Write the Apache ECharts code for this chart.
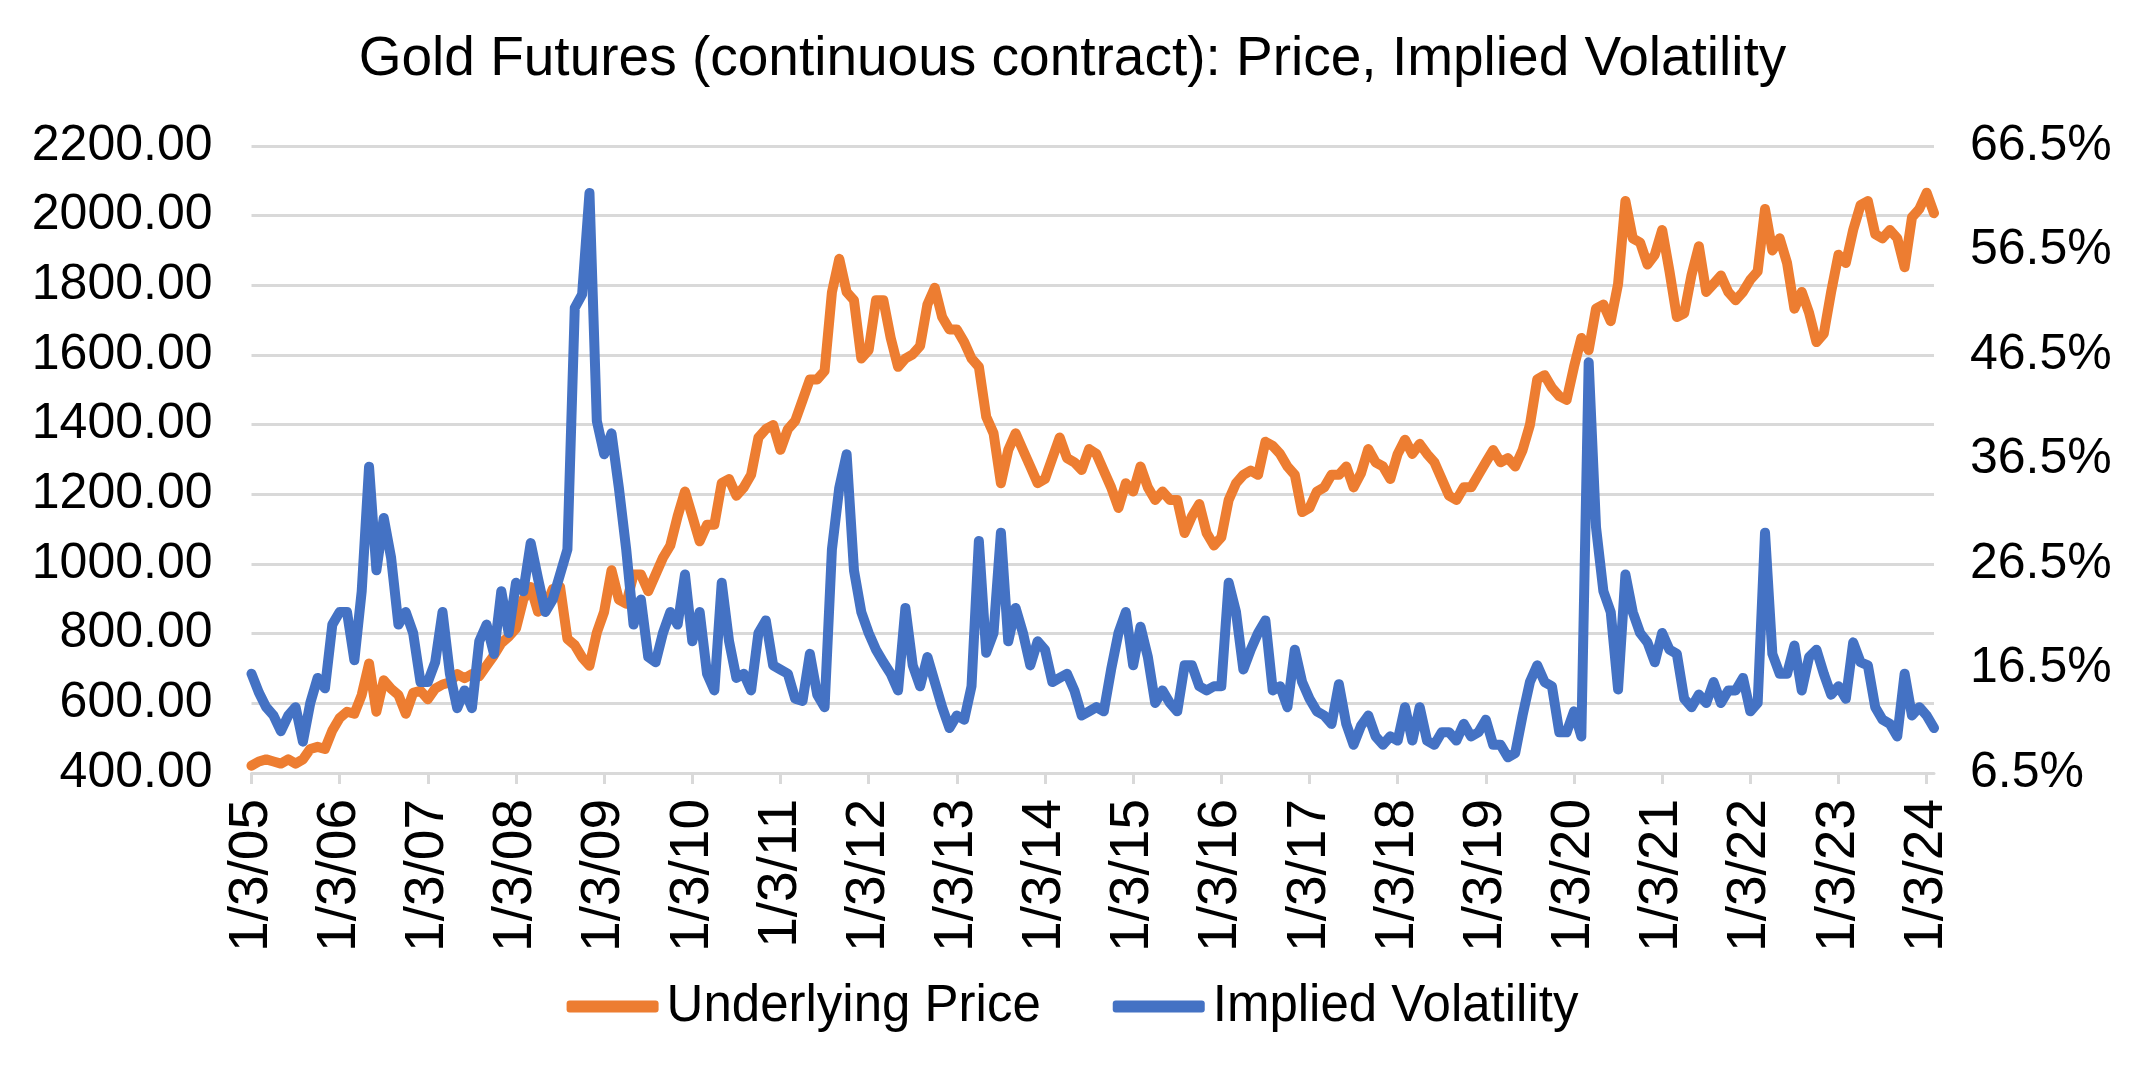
<!DOCTYPE html>
<html>
<head>
<meta charset="utf-8">
<script src="https://cdn.jsdelivr.net/npm/echarts@6/dist/echarts.min.js"></script>
<style>
html,body{margin:0;padding:0;background:#fff;}
#chart{width:2145px;height:1081px;}
</style>
</head>
<body>
<div id="chart"></div>
<script>
// Monthly samples starting 1/3/05 (index / 12 = years since 1/3/05)
const xTickLabels = ['1/3/05','1/3/06','1/3/07','1/3/08','1/3/09','1/3/10','1/3/11','1/3/12','1/3/13','1/3/14','1/3/15','1/3/16','1/3/17','1/3/18','1/3/19','1/3/20','1/3/21','1/3/22','1/3/23','1/3/24'];

const underlyingPrice = [
  421, 433, 439, 433, 427, 439, 427, 439, 469, 475, 469, 522,
  558, 576, 570, 624, 714, 576, 666, 642, 624, 570, 630, 636,
  612, 642, 654, 660, 684, 672, 684, 678, 708, 738, 773, 791,
  815, 898, 934, 863, 875, 928, 934, 785, 767, 732, 708, 803,
  863, 982, 898, 886, 970, 970, 922, 970, 1018, 1053, 1137, 1208,
  1137, 1065, 1113, 1113, 1232, 1244, 1196, 1220, 1256, 1363, 1387, 1399,
  1328, 1387, 1411, 1470, 1530, 1530, 1554, 1780, 1876, 1781, 1757, 1590,
  1614, 1757, 1757, 1649, 1566, 1590, 1602, 1626, 1745, 1793, 1709, 1673,
  1673, 1637, 1590, 1566, 1423, 1375, 1232, 1327, 1375, 1327, 1280, 1232,
  1244, 1304, 1363, 1304, 1292, 1270, 1330, 1316, 1268, 1220, 1161, 1232,
  1208, 1280, 1220, 1184, 1208, 1184, 1184, 1089, 1137, 1172, 1089, 1053,
  1077, 1184, 1232, 1256, 1268, 1256, 1351, 1339, 1316, 1280, 1256, 1149,
  1161, 1208, 1220, 1256, 1256, 1280, 1220, 1260, 1330, 1292, 1280, 1244,
  1316, 1357, 1316, 1345, 1316, 1292, 1244, 1196, 1184, 1220, 1220, 1256,
  1292, 1327, 1292, 1304, 1280, 1327, 1399, 1530, 1542, 1506, 1482, 1471,
  1566, 1649, 1614, 1733, 1745, 1697, 1804, 2042, 1935, 1923, 1860, 1888,
  1959, 1840, 1709, 1720, 1830, 1912, 1781, 1804, 1828, 1781, 1757, 1781,
  1816, 1840, 2019, 1900, 1935, 1864, 1733, 1781, 1721, 1637, 1661, 1781,
  1888, 1864, 1959, 2030, 2042, 1947, 1935, 1959, 1935, 1852, 1995, 2019,
  2066, 2007
];

const impliedVolatility = [
  16.0, 14.2, 12.8, 12.0, 10.5, 12.0, 12.8, 9.5, 13.2, 15.6, 14.6, 20.7,
  21.9, 21.9, 17.3, 23.9, 35.8, 25.9, 30.9, 27.1, 20.7, 21.9, 19.9, 15.2,
  15.2, 17.1, 21.9, 16.0, 12.7, 14.4, 12.7, 19.1, 20.7, 17.9, 23.9, 19.9,
  24.7, 23.9, 28.5, 25.1, 21.9, 23.1, 25.5, 27.9, 51.0, 52.3, 62.0, 40.2,
  37.0, 39.0, 33.8, 27.9, 20.7, 23.1, 17.6, 17.1, 19.9, 21.9, 20.7, 25.5,
  19.1, 21.9, 16.0, 14.4, 24.7, 19.1, 15.6, 16.0, 14.4, 19.9, 21.1, 16.8,
  16.4, 16.0, 13.6, 13.4, 17.9, 14.0, 12.8, 27.9, 33.8, 37.0, 25.9, 21.9,
  19.9, 18.3, 17.1, 16.0, 14.4, 22.3, 16.8, 14.8, 17.6, 15.2, 12.8, 10.8,
  12.0, 11.6, 14.8, 28.7, 18.0, 19.9, 29.5, 19.1, 22.3, 19.9, 16.8, 19.1,
  18.3, 15.2, 15.6, 16.0, 14.4, 12.0, 12.4, 12.8, 12.4, 16.4, 19.9, 21.9,
  16.8, 20.5, 17.6, 13.2, 14.4, 13.2, 12.4, 16.8, 16.8, 14.8, 14.4, 14.8,
  14.8, 24.7, 21.9, 16.4, 18.3, 19.9, 21.1, 14.4, 14.8, 12.8, 18.3, 15.2,
  13.6, 12.4, 12.0, 11.2, 15.0, 11.2, 9.2, 11.0, 12.0, 10.0, 9.2, 10.0,
  9.6, 12.8, 9.6, 12.8, 9.6, 9.2, 10.4, 10.4, 9.6, 11.2, 10.0, 10.4,
  11.6, 9.2, 9.2, 8.0, 8.4, 12.0, 15.2, 16.8, 15.2, 14.8, 10.4, 10.4,
  12.4, 10.0, 45.8, 30.0, 23.9, 21.9, 14.5, 25.5, 21.9, 19.9, 19.0, 17.1,
  19.9, 18.3, 17.9, 13.6, 12.8, 14.0, 13.2, 15.2, 13.2, 14.4, 14.4, 15.6,
  12.4, 13.2, 29.5, 17.9, 16.0, 16.0, 18.7, 14.4, 17.6, 18.3, 16.0, 14.0,
  14.8, 13.6, 19.0, 17.1, 16.8, 12.8, 11.6, 11.2, 10.0, 16.0, 12.0, 12.8,
  12.0, 10.8
];

const seriesNames = ['Underlying Price', 'Implied Volatility'];
const seriesColors = ['#ED7D31', '#4472C4'];

const toPairs = arr => arr.map((v, i) => [i / 12, v]);
const lastX = (underlyingPrice.length - 1) / 12;
const tickValues = xTickLabels.map((_, i) => i);

const FONT = '"Liberation Sans", Arial, Helvetica, sans-serif';
const GRID = '#D9D9D9';

const chart = echarts.init(document.getElementById('chart'), null, {renderer: 'canvas'});
chart.setOption({
  animation: false,
  backgroundColor: '#ffffff',
  textStyle: {fontFamily: FONT, color: '#000'},
  title: {
    text: 'Gold Futures (continuous contract): Price, Implied Volatility',
    left: 'center',
    top: 27,
    textStyle: {fontFamily: FONT, fontSize: 55, fontWeight: 'normal', color: '#000'}
  },
  legend: {
    data: seriesNames,
    top: 976,
    left: 'center',
    icon: 'roundRect',
    itemWidth: 92,
    itemHeight: 12,
    itemGap: 72,
    textStyle: {fontFamily: FONT, fontSize: 51, color: '#000', padding: [0, 0, 0, 3]}
  },
  grid: {left: 251.5, right: 211, top: 146, bottom: 308, containLabel: false},
  xAxis: {
    type: 'value',
    min: 0,
    max: lastX,
    interval: 1,
    axisLine: {show: true, lineStyle: {color: GRID, width: 3}},
    axisTick: {show: true, length: 11, lineStyle: {color: GRID, width: 3}, customValues: tickValues},
    splitLine: {show: false},
    axisLabel: {
      customValues: tickValues,
      rotate: 90,
      margin: 26,
      fontSize: 55,
      fontFamily: FONT,
      color: '#000',
      formatter: v => xTickLabels[Math.round(v)]
    }
  },
  yAxis: [
    {
      type: 'value',
      min: 400,
      max: 2200,
      interval: 200,
      axisLine: {show: false},
      axisTick: {show: false},
      splitLine: {show: true, lineStyle: {color: GRID, width: 3}},
      axisLabel: {
        margin: 39,
        fontSize: 50,
        fontFamily: FONT,
        color: '#000',
        formatter: v => v.toFixed(2)
      }
    },
    {
      type: 'value',
      position: 'right',
      min: 6.5,
      max: 66.5,
      interval: 10,
      axisLine: {show: false},
      axisTick: {show: false},
      splitLine: {show: false},
      axisLabel: {
        margin: 36,
        fontSize: 50,
        fontFamily: FONT,
        color: '#000',
        formatter: v => v.toFixed(1) + '%'
      }
    }
  ],
  series: [
    {
      name: seriesNames[0],
      type: 'line',
      yAxisIndex: 0,
      data: toPairs(underlyingPrice),
      showSymbol: false,
      symbol: 'none',
      color: seriesColors[0],
      lineStyle: {width: 10, color: seriesColors[0], cap: 'round', join: 'round'}
    },
    {
      name: seriesNames[1],
      type: 'line',
      yAxisIndex: 1,
      data: toPairs(impliedVolatility),
      showSymbol: false,
      symbol: 'none',
      color: seriesColors[1],
      lineStyle: {width: 10, color: seriesColors[1], cap: 'round', join: 'round'}
    }
  ]
});
</script>
</body>
</html>
